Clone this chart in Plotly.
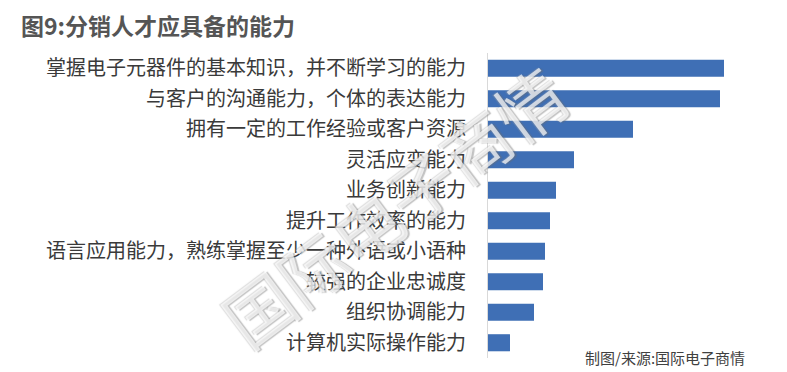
import plotly.graph_objects as go

categories = [
    "掌握电子元器件的基本知识，并不断学习的能力",
    "与客户的沟通能力，个体的表达能力",
    "拥有一定的工作经验或客户资源",
    "灵活应变能力",
    "业务创新能力",
    "提升工作效率的能力",
    "语言应用能力，熟练掌握至少一种外语或小语种",
    "较强的企业忠诚度",
    "组织协调能力",
    "计算机实际操作能力",
]
values = [47.2, 46.4, 29.0, 17.2, 13.6, 12.4, 11.4, 11.0, 9.2, 4.4]

title_text = "图9:分销人才应具备的能力"
source_text = "制图/来源:国际电子商情"
watermark_text = "国际电子商情"

FONT = "Noto Sans CJK SC"

fig = go.Figure(
    go.Bar(
        x=values,
        y=categories,
        orientation="h",
        marker=dict(color="#3f6fb5", line=dict(width=0)),
        width=0.56,
        hoverinfo="skip",
    )
)

fig.update_layout(
    width=787,
    height=372,
    margin=dict(l=488, r=49, t=53, b=14),
    paper_bgcolor="white",
    plot_bgcolor="white",
    showlegend=False,
    font=dict(family=FONT, color="#3a3a3a"),
    xaxis=dict(
        range=[0, 50],
        visible=False,
        showgrid=False,
        zeroline=False,
    ),
    yaxis=dict(
        autorange="reversed",
        automargin=False,
        showgrid=False,
        zeroline=False,
        showline=True,
        linecolor="#d9d9d9",
        linewidth=1,
        ticks="",
        ticklabelstandoff=17,
        tickfont=dict(family=FONT, size=20, color="#3a3a3a"),
    ),
)

fig.add_annotation(
    text="<b>" + title_text + "</b>",
    xref="paper", yref="paper",
    x=(19 - 488) / 250, y=(372 - 25 - 14) / 305,
    xanchor="left", yanchor="middle",
    showarrow=False,
    font=dict(family=FONT, size=23, color="#555555"),
)

fig.add_annotation(
    text=source_text,
    xref="paper", yref="paper",
    x=(747 - 488) / 250, y=(372 - 357 - 14) / 305,
    xanchor="right", yanchor="middle",
    showarrow=False,
    font=dict(family=FONT, size=15, color="#404040"),
)

fig.add_annotation(
    text=watermark_text,
    xref="paper", yref="paper",
    x=(393 - 488) / 250, y=(372 - 205 - 14) / 305,
    xanchor="center", yanchor="middle",
    textangle=-37,
    showarrow=False,
    font=dict(
        family=FONT, size=68, color="rgba(255,255,255,0.7)",
        shadow="1.5px 1.5px 1px rgba(110,110,110,0.6), -1px -1px 1px rgba(160,160,160,0.5)",
    ),
)

fig.write_html("out.html")
